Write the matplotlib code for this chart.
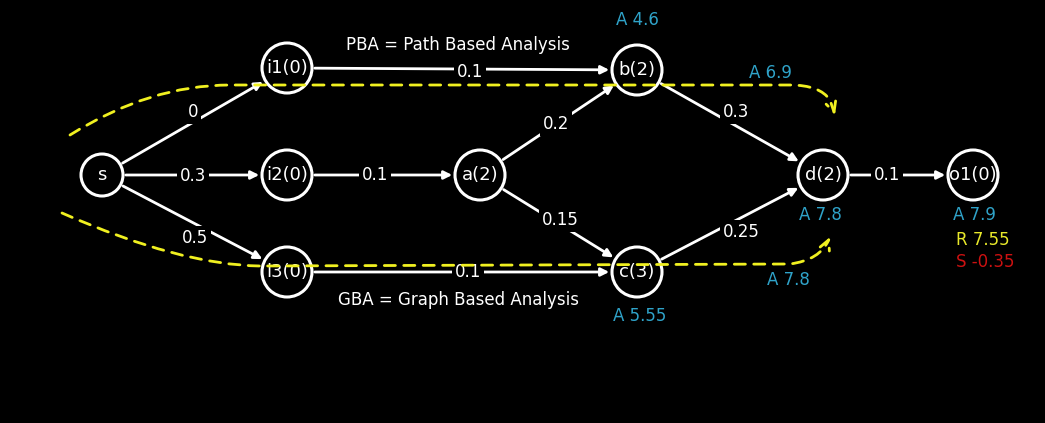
import matplotlib
matplotlib.use("Agg")
import matplotlib.pyplot as plt
from matplotlib.patches import Circle, FancyArrowPatch
from matplotlib.path import Path
import numpy as np

node_names = ["s", "i1(0)", "i2(0)", "i3(0)", "a(2)", "b(2)", "c(3)", "d(2)", "o1(0)"]
node_x = [102, 287, 287, 287, 480, 637, 637, 823, 973]
node_y = [175, 68, 175, 272, 175, 70, 272, 175, 175]
node_r = [21, 25, 25, 25, 25, 25, 25, 25, 25]
edge_src = ["s", "s", "s", "i1(0)", "i2(0)", "a(2)", "a(2)", "b(2)", "c(3)", "d(2)", "i3(0)"]
edge_dst = ["i1(0)", "i2(0)", "i3(0)", "b(2)", "a(2)", "b(2)", "c(3)", "d(2)", "d(2)", "o1(0)", "c(3)"]
edge_labels = ["0", "0.3", "0.5", "0.1", "0.1", "0.2", "0.15", "0.3", "0.25", "0.1", "0.1"]
label_pos = [(193, 112), (193, 176), (195, 238), (470, 72), (375, 175), (556, 124),
             (560, 220), (736, 112), (741, 232), (887, 175), (468, 272)]
annot_text = ["A 4.6", "A 6.9", "A 7.8", "A 7.8", "A 5.55", "A 7.9", "R 7.55", "S -0.35"]
annot_pos = [(637, 20), (770, 73), (820, 215), (788, 280), (640, 316), (974, 215), (983, 240), (985, 262)]
annot_color = ["#2fa3c9"] * 6 + ["#e8e82a", "#cc1111"]

fig = plt.figure(figsize=(10.45, 4.23), dpi=100, facecolor="black")
ax = fig.add_axes([0, 0, 1, 1])
ax.set_facecolor("black")
ax.set_xlim(0, 1045); ax.set_ylim(423, 0); ax.axis("off")

pos = {n: (x, y, r) for n, x, y, r in zip(node_names, node_x, node_y, node_r)}
for n, (x, y, r) in pos.items():
    ax.add_patch(Circle((x, y), r, fill=False, ec="white", lw=2.2, zorder=3))
    ax.text(x, y, n, color="white", ha="center", va="center", fontsize=13, zorder=4,
            family="DejaVu Sans")

for s, d, lab, (lx, ly) in zip(edge_src, edge_dst, edge_labels, label_pos):
    x0, y0, r0 = pos[s]; x1, y1, r1 = pos[d]
    v = np.array([x1 - x0, y1 - y0], float); v /= np.linalg.norm(v)
    p0 = np.array([x0, y0]) + v * r0; p1 = np.array([x1, y1]) - v * r1
    ax.add_patch(FancyArrowPatch(p0, p1, arrowstyle="-|>", mutation_scale=12,
                                 color="white", lw=2, zorder=2))
    ax.text(lx, ly, lab, color="white", ha="center", va="center", fontsize=12,
            bbox=dict(fc="black", ec="none", pad=2), zorder=3)

ax.text(458, 45, "PBA = Path Based Analysis", color="white", ha="center", va="center", fontsize=12)
ax.text(458, 300, "GBA = Graph Based Analysis", color="white", ha="center", va="center", fontsize=12)
for t, (x, y), c in zip(annot_text, annot_pos, annot_color):
    ax.text(x, y, t, color=c, ha="center", va="center", fontsize=12)

yel = "#f0f020"
top = Path([(70, 135), (150, 85), (230, 85), (250, 85), (790, 85), (820, 85), (830, 100), (835, 115)],
           [Path.MOVETO, Path.CURVE3, Path.CURVE3, Path.LINETO, Path.LINETO, Path.CURVE3, Path.CURVE3, Path.LINETO])
bot = Path([(62, 213), (180, 265), (260, 266), (790, 264), (820, 260), (830, 237)],
           [Path.MOVETO, Path.CURVE3, Path.CURVE3, Path.LINETO, Path.CURVE3, Path.CURVE3])
for p in (top, bot):
    ax.add_patch(FancyArrowPatch(path=p, arrowstyle="->", mutation_scale=18, color=yel,
                                 lw=2, linestyle=(0, (4, 3)), zorder=5))

fig.savefig("out.png", dpi=100, facecolor="black")
